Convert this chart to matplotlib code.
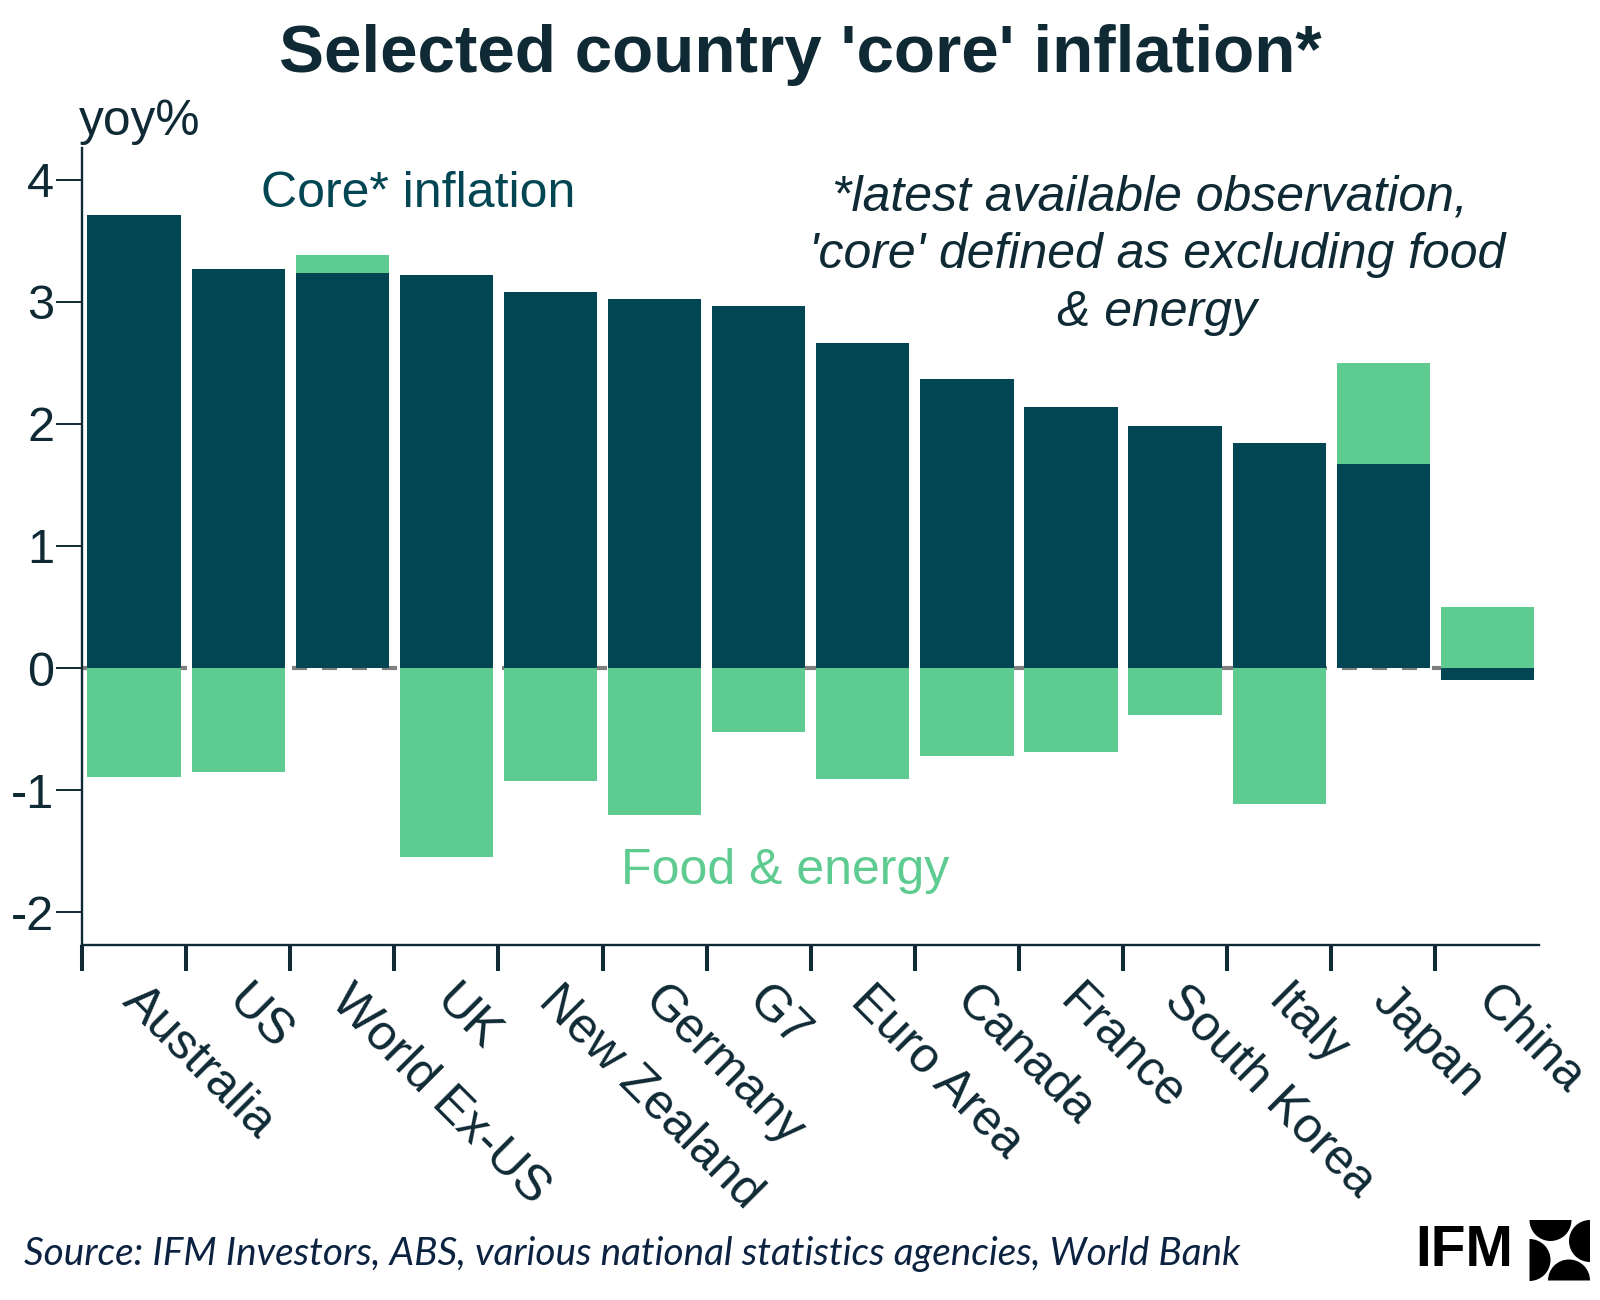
import matplotlib
matplotlib.use("Agg")
import matplotlib.pyplot as plt
from matplotlib.patches import Wedge
import numpy as np

categories = ["Australia", "US", "World Ex-US", "UK", "New Zealand", "Germany", "G7",
              "Euro Area", "Canada", "France", "South Korea", "Italy", "Japan", "China"]
core = [3.71, 3.265, 3.24, 3.22, 3.08, 3.02, 2.965, 2.665, 2.365, 2.135, 1.98, 1.845, 1.67, -0.10]
food_energy = [-0.89, -0.85, 0.14, -1.55, -0.925, -1.205, -0.525, -0.91, -0.72, -0.69, -0.385, -1.11, 0.825, 0.50]
y_ticks = [-2, -1, 0, 1, 2, 3, 4]

DARK = "#024653"
GREEN = "#5ECB91"
INK = "#0F2A35"
W, H = 1600, 1300

plt.rcParams["font.family"] = ["Liberation Sans", "DejaVu Sans"]
fig = plt.figure(figsize=(W / 100, H / 100), dpi=100)

# Plot area placed in pixel terms
left, right, top, bottom = 82, 1539.5, 148, 944.5
ax = fig.add_axes([left / W, 1 - bottom / H, (right - left) / W, (bottom - top) / H])
ax.set_xlim(-0.5, 13.5)
ax.set_ylim(-2.265, 4.26)

x = np.arange(len(categories))
core_arr = np.array(core)
food_arr = np.array(food_energy)

# Food & energy stacks on core only when both share a sign
food_base = np.where((core_arr > 0) & (food_arr > 0), core_arr, 0.0)
ax.plot([-0.5, 13], [0, 0], color="#808080", lw=3, dashes=(3.6, 3.6), zorder=1)
ax.bar(x, core_arr, width=0.896, color=DARK, zorder=2)
ax.bar(x, food_arr, width=0.896, bottom=food_base, color=GREEN, zorder=2)

for side in ("top", "right"):
    ax.spines[side].set_visible(False)
for side in ("left", "bottom"):
    ax.spines[side].set_linewidth(1.7)
    ax.spines[side].set_color(INK)

ax.set_yticks(y_ticks)
ax.set_yticklabels([str(v) for v in y_ticks], fontsize=35, color=INK)
ax.tick_params(axis="y", length=19, width=1.4, color=INK, pad=1)

# Ticks mark the category boundaries; names hang from the slot centres
ax.set_xticks(np.arange(-0.5, 13.5, 1))
ax.set_xticklabels([])
ax.tick_params(axis="x", length=19, width=2.9, color=INK)
for xi, name in zip(x, categories):
    ax.annotate(name, xy=(xi, 0), xycoords=ax.get_xaxis_transform(),
                xytext=(-3, -35.5), textcoords="offset points",
                rotation=-45, rotation_mode="anchor", ha="left", va="center",
                fontsize=35.8, color=INK)

fig.text(800 / W, 1 - 55 / H, "Selected country 'core' inflation*", fontsize=48.5, fontweight="bold",
         color=INK, ha="center", va="center")
fig.text(79 / W, 1 - 122 / H, "yoy%", fontsize=35.7, color=INK, ha="left", va="center")
fig.text(418 / W, 1 - 194 / H, "Core* inflation", fontsize=36, color=DARK, ha="center", va="center")
fig.text(785 / W, 1 - 871 / H, "Food & energy", fontsize=36, color=GREEN, ha="center", va="center")
# The trailing space nudges the first line left of the shared centre
fig.text(1157 / W, 1 - 255.5 / H, "*latest available observation, \n'core' defined as excluding food\n& energy",
         fontsize=36, style="italic", color=INK, ha="center", va="center", linespacing=1.32)
fig.text(24 / W, 1 - 1254 / H, "Source: IFM Investors, ABS, various national statistics agencies, World Bank",
         fontsize=27.9, style="italic", color="#0B2340", family=["Lato", "DejaVu Sans"],
         ha="left", va="center")
fig.text(1415 / W, 1 - 1251 / H, "IFM", fontsize=41, fontweight="bold", color="black",
         ha="left", va="center")

# Four half-discs of the company mark, in pixel coordinates
logo = fig.add_axes([0, 0, 1, 1], facecolor="none")
logo.set_xlim(0, W)
logo.set_ylim(H, 0)
logo.axis("off")
r = 21
for cx, cy, a0, a1 in [(1550.5, 1220, 0, 180), (1590, 1241, 90, 270),
                       (1569, 1280.5, 180, 360), (1529.5, 1260, 270, 90)]:
    logo.add_patch(Wedge((cx, cy), r, a0, a1, color="black", lw=0))

fig.savefig("out.png", dpi=100)
